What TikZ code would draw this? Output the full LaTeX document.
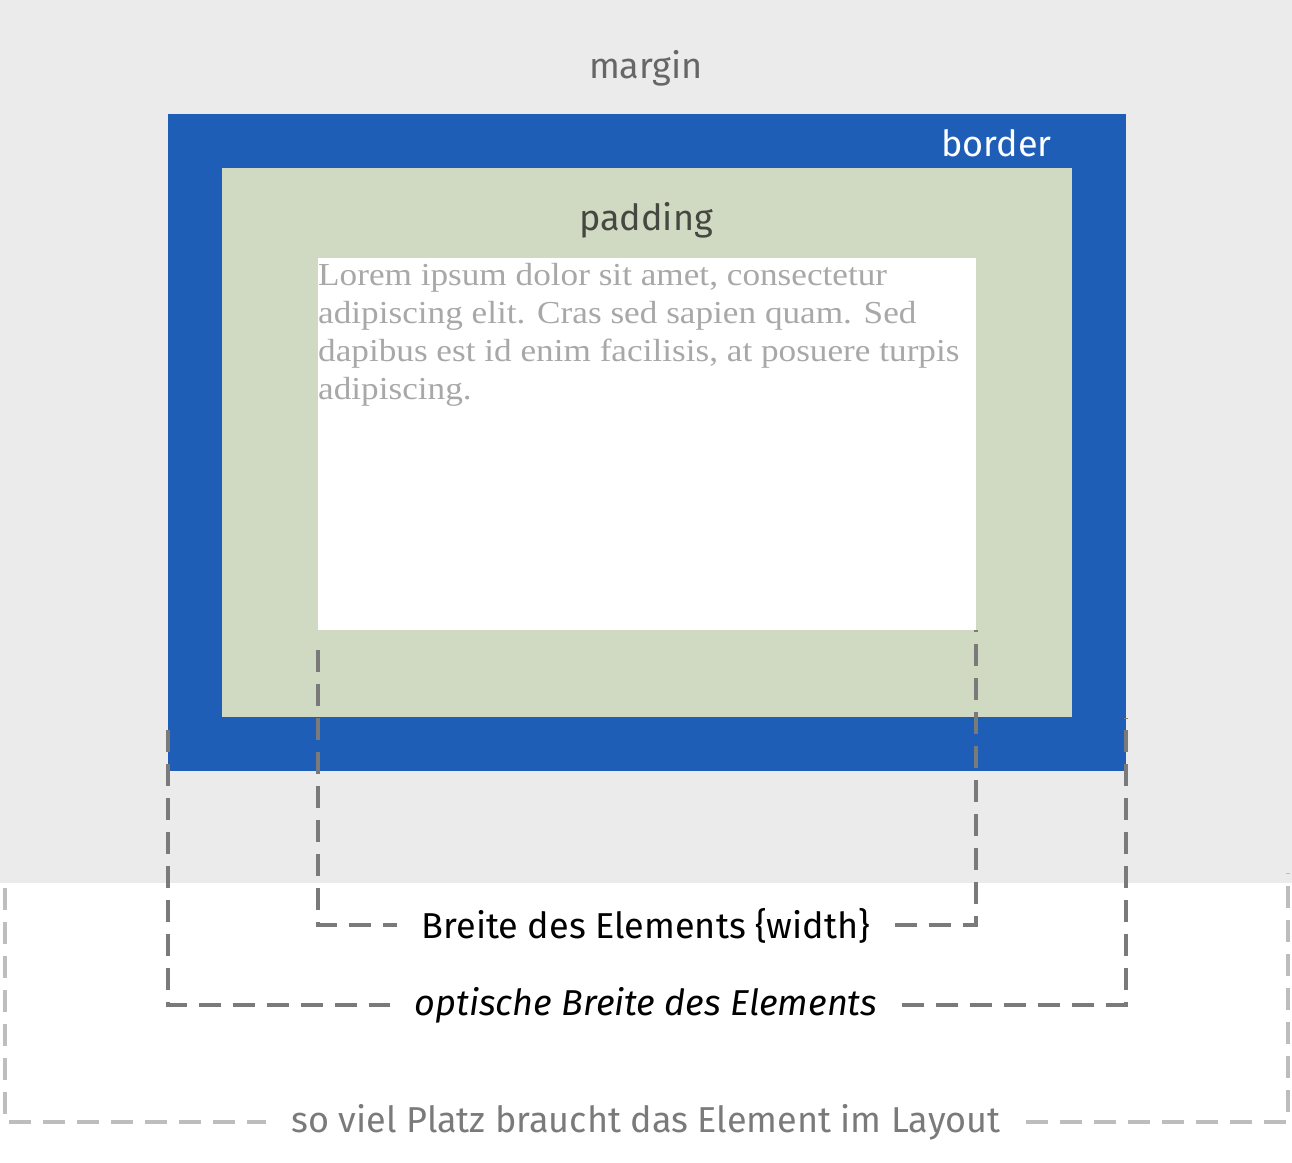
\documentclass[tikz,border=0pt]{standalone}
\usepackage{fontspec}
\setmainfont{Fira Sans}
\newfontfamily\loremfont[FakeStretch=1.1]{Liberation Serif}
\usetikzlibrary{positioning}
\definecolor{margingray}{HTML}{EBEBEB}
\definecolor{borderblue}{HTML}{1E5EB6}
\definecolor{paddinggreen}{HTML}{D0DAC3}
\definecolor{margintext}{HTML}{666666}
\definecolor{paddingtext}{HTML}{454840}
\definecolor{loremgray}{HTML}{A8A8A8}
\definecolor{dimdark}{HTML}{7A7A7A}
\definecolor{dimlight}{HTML}{BDBDBD}
\tikzset{
  boxlabel/.style={font=\fontsize{36}{40}\selectfont, inner sep=0pt},
  dimlabel/.style={font=\fontsize{36}{40}\selectfont, inner xsep=25pt, inner ysep=0pt},
  dimline/.style={line width=4pt, color=dimdark, dash pattern=on 22pt off 12pt},
  layoutline/.style={line width=4pt, color=dimlight, dash pattern=on 22pt off 12pt}
}

\begin{document}
\begin{tikzpicture}[x=1pt, y=-1pt]
		%%%%% START %%%%%
		\useasboundingbox (0, 0) rectangle (1292, 1162);
		
		\fill[margingray] (0, 0) rectangle (1292, 883);
		\fill[borderblue] (168, 114) rectangle (1126, 771);
		\fill[paddinggreen] (222, 168) rectangle (1072, 717);
		\fill[white] (318, 258) rectangle (976, 630);
		
		\node[boxlabel, text=margintext, anchor=base] (margin) at (646, 78) {margin};
		\node[boxlabel, text=white, anchor=base east] (border) at (1052, 156) {border};
		\node[boxlabel, text=paddingtext, anchor=base] (padding) at (646, 230) {padding};
		
		\node[anchor=north west, inner sep=0pt, align=left, text=loremgray,
		      font=\loremfont\fontsize{32}{38}\selectfont] (lorem) at (318, 263)
		     {Lorem ipsum dolor sit amet, consectetur\\
		      adipiscing elit. Cras sed sapien quam. Sed\\
		      dapibus est id enim facilisis, at posuere turpis\\
		      adipiscing.};
		
		\node[dimlabel, anchor=base] (width) at (646, 938) {Breite des Elements \{width\}};
		\node[dimlabel, anchor=base, font=\fontsize{36}{40}\selectfont\itshape] (optical) at (646, 1015) {optische Breite des Elements};
		\node[dimlabel, anchor=base, text=dimdark] (layout) at (646, 1132) {so viel Platz braucht das Element im Layout};
		
		\coordinate (widthleft) at (318, 650);
		\coordinate (widthright) at (976, 630);
		\coordinate (opticalleft) at (168, 730);
		\coordinate (opticalright) at (1126, 718);
		\coordinate (layoutleft) at (5, 888);
		\coordinate (layoutright) at (1288, 873);
		
		\draw[dimline] (widthleft) |- (width.west);
		\draw[dimline] (width.east) -| (widthright);
		\draw[dimline] (opticalleft) |- (optical.west);
		\draw[dimline] (optical.east) -| (opticalright);
		\draw[layoutline] (layoutleft) |- (layout.west);
		\draw[layoutline] (layout.east) -| (layoutright);
		
		%%%%% END %%%%%
\end{tikzpicture}
\end{document}
